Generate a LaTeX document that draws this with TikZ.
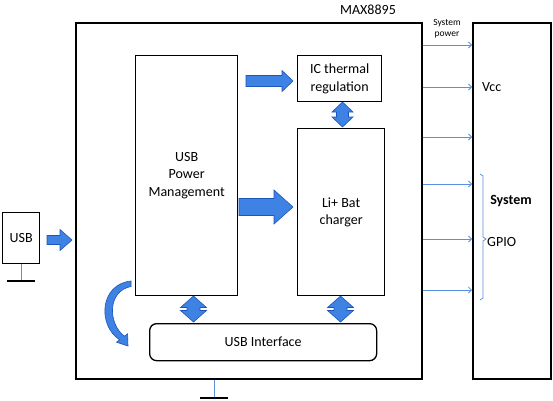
\documentclass[tikz,border=0pt]{standalone}
\usepackage{fontspec}
\setmainfont{Carlito}
\usetikzlibrary{arrows.meta,calc}
\definecolor{arrfill}{RGB}{62,130,228}
\definecolor{arrdraw}{RGB}{28,86,186}
\definecolor{thinblue}{RGB}{88,145,222}
\newcommand\rarrow[6]{%
  \filldraw[blockarrow, shift={(#1,#3)}] (0,-#4) -- (#2-#1-#6,-#4) -- (#2-#1-#6,-#5) -- (#2-#1,0) -- (#2-#1-#6,#5) -- (#2-#1-#6,#4) -- (0,#4) -- cycle;}
\newcommand\dvarrow[6]{%
  \filldraw[blockarrow, shift={(#1,#2)}] (0,0) -- (#4,#6) -- (#5,#6) -- (#5,#3-#2-#6) -- (#4,#3-#2-#6) -- (0,#3-#2) -- (-#4,#3-#2-#6) -- (-#5,#3-#2-#6) -- (-#5,#6) -- (-#4,#6) -- cycle;}
\begin{document}
\begin{tikzpicture}[x=1pt,y=-1pt,
  box/.style={draw=black, line width=1.3pt, anchor=north west, inner sep=0pt, align=center,
    font=\fontsize{14}{17.5}\selectfont},
  blockarrow/.style={fill=arrfill, draw=arrdraw, line width=0.6pt, line join=miter},
  sig/.style={draw=thinblue, line width=0.8pt, -{Straight Barb[length=3pt,width=6pt]}},
  gnd/.style={draw=black, line width=2pt},
  lbl/.style={inner sep=0pt, font=\fontsize{14}{17.5}\selectfont}]
\useasboundingbox (0,0) rectangle (553,400);
% boxes
\node[box, line width=1.5pt, minimum width=346pt, minimum height=356pt] (main) at (75,22) {};
\node[box, line width=1.5pt, minimum width=78pt, minimum height=356pt] (sys) at (472,22) {};
\node[box, minimum width=102pt, minimum height=240pt] (pm) at (135,55) {USB\\Power\\Management};
\node[box, minimum width=84pt, minimum height=46pt] (ic) at (297,55) {IC thermal\\regulation};
\node[box, minimum width=87pt, minimum height=167pt] (li) at (297,128) {Li+ Bat\\charger};
\node[box, rounded corners=7pt, minimum width=227pt, minimum height=37pt] (usbif) at (149,323) {USB Interface};
\node[box, minimum width=37pt, minimum height=51pt] (usb) at (2,212) {USB};
% labels
\node[lbl] (maxlbl) at (368,10) {MAX8895};
\node[inner sep=0pt, align=center, font=\fontsize{9.5}{11}\selectfont] (splbl) at (447,29) {System\\power};
\node[lbl, anchor=west] (vcc) at (482,87) {Vcc};
\node[lbl, font=\bfseries\fontsize{14}{17.5}\selectfont] (systxt) at (511,201) {System};
\node[lbl, anchor=west] (gpio) at (487,242) {GPIO};
% grounds
\draw[draw=thinblue, line width=1pt] (usb.south) -- ++(0,17) coordinate (g1);
\draw[gnd] ($(g1)+(-14,0)$) -- ($(g1)+(14,0)$);
\draw[draw=thinblue, line width=1pt] (main.south -| 214,0) -- ++(0,18) coordinate (g2);
\draw[gnd] ($(g2)+(-14,0)$) -- ($(g2)+(14,0)$);
% system power signals
\foreach \yy in {45,87,137,184,239,290}
  \draw[sig] (main.east |- 0,\yy) -- (sys.west |- 0,\yy);
% bracket
\draw[draw=thinblue, line width=0.8pt] (480,174) -- (483,176) -- (483,237) -- (486,239) -- (483,241) -- (483,298) -- (480,300);
% block arrows
\rarrow{47}{72}{240}{4.5}{10.5}{12}
\rarrow{246}{293}{81}{5.5}{10.5}{11}
\rarrow{239}{293}{207}{8.5}{17}{19}
\dvarrow{193.5}{296}{322}{13}{6.5}{11.5}
\dvarrow{340.5}{296}{322}{13}{6.5}{11.5}
\dvarrow{342.5}{102}{127}{10.5}{6}{10}
% curved arrow
\filldraw[blockarrow] (131,281) .. controls (100,284) and (97,325) .. (119.6,339.8)
  -- (116.4,342.2) -- (128,346) -- (127.6,333.8) -- (124.4,336.2)
  .. controls (108,324) and (107,291) .. (131,286.5) -- cycle;
\end{tikzpicture}
\end{document}
